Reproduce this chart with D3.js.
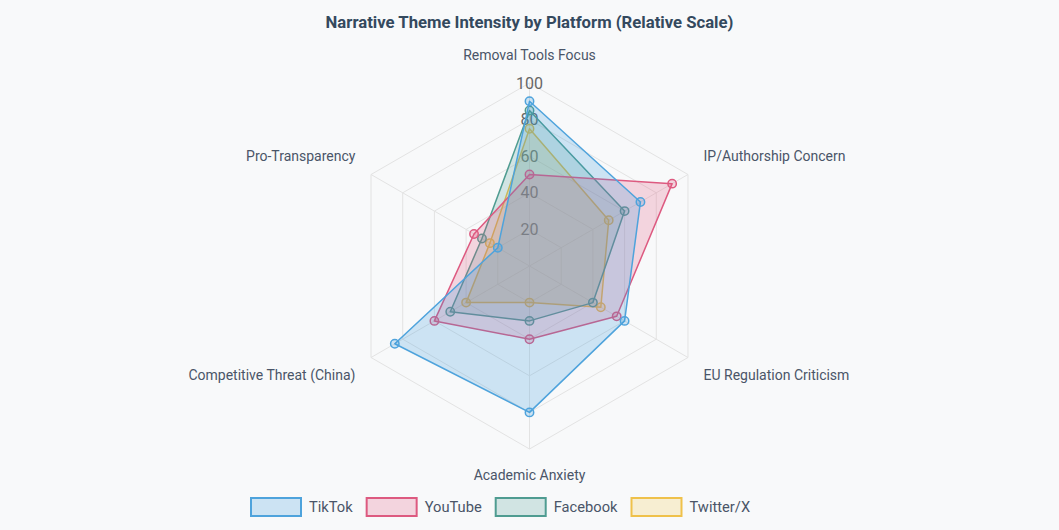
<!DOCTYPE html>
<html>
<head>
<meta charset="utf-8">
<script src="https://cdn.jsdelivr.net/npm/d3@7"></script>
<style>
  html, body { margin: 0; padding: 0; background: #f8f9fa; }
  svg { display: block; font-family: Roboto, "Noto Sans", sans-serif; }
  .title { font-size: 16.7px; font-weight: 700; fill: #34495e; }
  .point-label { font-size: 14px; fill: #4a5568; }
  .tick-label { font-size: 16px; fill: #666; }
  .grid { fill: none; stroke: #e3e3e3; stroke-width: 1; }
  .legend-text { font-size: 14.7px; fill: #4a5568; }
</style>
</head>
<body>
<div id="chart"></div>
<script>
/* radar chart: narrative themes across platforms */
const W = 1059, H = 530;
const CX = 529.5, CY = 266, R = 183;

const AXES = [
  "Removal Tools Focus",
  "IP/Authorship Concern",
  "EU Regulation Criticism",
  "Academic Anxiety",
  "Competitive Threat (China)",
  "Pro-Transparency",
];
const TICKS = [20, 40, 60, 80, 100];

// one array per platform, in AXES order
const TIKTOK = [90, 70, 60, 80, 85, 20];
const YOUTUBE = [50, 90, 55, 40, 60, 35];
const FACEBOOK = [85, 60, 40, 30, 50, 30];
const TWITTER = [75, 50, 45, 20, 40, 25];

const SERIES = [
  { name: "TikTok", values: TIKTOK, stroke: "#4ea3dc", fill: "rgba(52,152,219,0.22)" },
  { name: "YouTube", values: YOUTUBE, stroke: "#dd5a80", fill: "rgba(226,84,124,0.22)" },
  { name: "Facebook", values: FACEBOOK, stroke: "#4f9c91", fill: "rgba(72,156,144,0.22)" },
  { name: "Twitter/X", values: TWITTER, stroke: "#efc14a", fill: "rgba(246,200,70,0.22)" },
];

const r = d3.scaleLinear().domain([0, 100]).range([0, R]);
const angle = d3.scaleLinear().domain([0, AXES.length]).range([0, 2 * Math.PI]);

// point at (index, value) in page coords
const px = (i, v) => CX + r(v) * Math.sin(angle(i));
const py = (i, v) => CY - r(v) * Math.cos(angle(i));

const svg = d3
  .select("#chart")
  .append("svg")
  .attr("width", W)
  .attr("height", H);

svg
  .append("text")
  .attr("class", "title")
  .attr("x", CX)
  .attr("y", 28)
  .attr("text-anchor", "middle")
  .text("Narrative Theme Intensity by Platform (Relative Scale)");

/* ---------- grid rings + angle lines ---------- */
const ring = d3
  .lineRadial()
  .angle((d, i) => angle(i))
  .radius((d) => r(d))
  .curve(d3.curveLinearClosed);

const g = svg.append("g").attr("transform", `translate(${CX},${CY})`);

TICKS.forEach((t) => {
  g.append("path")
    .attr("class", "grid")
    .attr("d", ring(AXES.map(() => t)));
});

AXES.forEach((a, i) => {
  g.append("line")
    .attr("class", "grid")
    .attr("x1", 0)
    .attr("y1", 0)
    .attr("x2", r(100) * Math.sin(angle(i)))
    .attr("y2", -r(100) * Math.cos(angle(i)));
});

// tick labels up the first axis
g.selectAll(".tick-label")
  .data(TICKS)
  .join("text")
  .attr("class", "tick-label")
  .attr("x", 0)
  .attr("y", (d) => -r(d))
  .attr("dy", "0.35em")
  .attr("text-anchor", "middle")
  .text((d) => d);

/* ---------- axis (point) labels ---------- */
const LABEL_PAD = 18;
AXES.forEach((a, i) => {
  const lx = px(i, 100 + (LABEL_PAD / R) * 100);
  const ly = py(i, 100 + (LABEL_PAD / R) * 100);
  let anchor = "middle";
  if (lx > CX + 5) anchor = "start";
  else if (lx < CX - 5) anchor = "end";
  // above centre: text sits on the point, below: hangs from it
  const dy = ly < CY ? -5 : 13;
  svg
    .append("text")
    .attr("class", "point-label")
    .attr("x", lx)
    .attr("y", ly + dy)
    .attr("text-anchor", anchor)
    .text(a);
});

/* ---------- datasets (last first, so TikTok ends up on top) ---------- */
SERIES.slice().reverse().forEach((s) => {
  const ds = g.append("g");
  ds.append("path")
    .attr("d", ring(s.values))
    .attr("fill", s.fill)
    .attr("stroke", s.stroke)
    .attr("stroke-width", 1.5)
    .attr("stroke-linejoin", "round");

  ds.selectAll("circle")
    .data(s.values)
    .join("circle")
    .attr("cx", (d, i) => r(d) * Math.sin(angle(i)))
    .attr("cy", (d, i) => -r(d) * Math.cos(angle(i)))
    .attr("r", 4.2)
    .attr("fill", s.fill)
    .attr("stroke", s.stroke)
    .attr("stroke-width", 1.5);
});

/* ---------- legend row under the chart ---------- */
// the original legend sits a little left of the radar centre
const LEGEND_X = 250, LEGEND_Y = 507;
const BOX_W = 52, BOX_H = 18, BOX_GAP = 7, ITEM_GAP = 13;
const legend = svg.append("g").attr("transform", `translate(${LEGEND_X},${LEGEND_Y})`);
let lxPos = 0;
SERIES.forEach((s) => {
  const item = legend.append("g").attr("transform", `translate(${lxPos},0)`);
  item
    .append("rect")
    .attr("x", 1)
    .attr("y", -BOX_H / 2)
    .attr("width", BOX_W - 2)
    .attr("height", BOX_H)
    .attr("fill", s.fill)
    .attr("stroke", s.stroke)
    .attr("stroke-width", 2);
  const txt = item
    .append("text")
    .attr("class", "legend-text")
    .attr("x", BOX_W + BOX_GAP)
    .attr("dy", "0.35em")
    .text(s.name);
  lxPos += BOX_W + BOX_GAP + txt.node().getComputedTextLength() + ITEM_GAP;
});
</script>
</body>
</html>
